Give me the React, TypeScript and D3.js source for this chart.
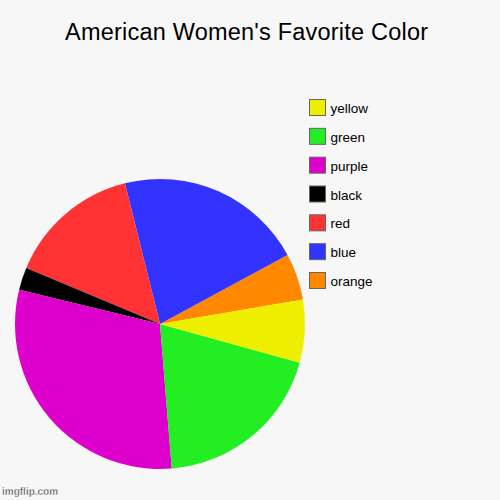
import React from "react";
import * as d3 from "d3";

const categories = ["orange", "blue", "red", "black", "purple", "green", "yellow"];
const values = [5.2, 21.0, 14.8, 2.5, 30.1, 19.4, 7.0];
const colors = ["#ff8800", "#3333ff", "#ff3333", "#000000", "#dd00cc", "#22ee22", "#eeee00"];
const title = "American Women's Favorite Color";

export default function App() {
  const W = 500, H = 500;
  const cx = 160, cy = 324, r = 145;
  const start = (80.3 * Math.PI) / 180;
  const pie = d3
    .pie<number>()
    .sort(null)
    .startAngle(start)
    .endAngle(start - 2 * Math.PI)(values);
  const arc = d3.arc<d3.PieArcDatum<number>>().innerRadius(0).outerRadius(r);

  const legendY = d3
    .scalePoint<string>()
    .domain([...categories].reverse())
    .range([99.5, 272.5]);

  return (
    <svg
      width={W}
      height={H}
      style={{ position: "absolute", left: 0, top: 0, background: "#f7f7f7" }}
      fontFamily="'Liberation Sans', Arial, sans-serif"
    >
      <rect width={W} height={H} fill="#f7f7f7" />
      <text x={65} y={39.5} fontSize={23.5} fill="#000" textLength={363} lengthAdjust="spacing">
        {title}
      </text>
      <g transform={`translate(${cx},${cy})`}>
        {pie.map((d, i) => (
          <path key={categories[i]} d={arc(d) || ""} fill={colors[i]} />
        ))}
      </g>
      <g>
        {categories.map((c, i) => {
          const y = legendY(c) as number;
          return (
            <g key={c}>
              <rect x={309.5} y={y} width={16} height={16} fill={colors[i]} stroke="#666" strokeWidth={1} />
              <text x={330.5} y={y + 13.5} fontSize={13.5} fill="#000">
                {c}
              </text>
            </g>
          );
        })}
      </g>
      <text x={2} y={495} fontSize={10} fontWeight="bold" fill="#555" stroke="#fff" strokeWidth={0.3}>
        imgflip.com
      </text>
    </svg>
  );
}
